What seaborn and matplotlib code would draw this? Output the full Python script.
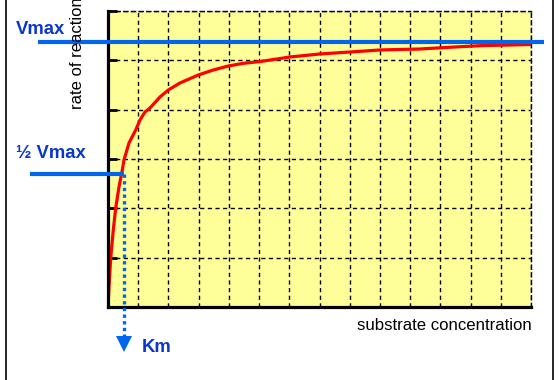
import numpy as np
import pandas as pd
import matplotlib
matplotlib.use("Agg")
import matplotlib.pyplot as plt
import seaborn as sns

# Curve (substrate concentration vs rate)
substrate = [0.0, 0.033, 0.089, 0.175, 0.255, 0.364, 0.473, 0.530, 0.695, 0.917,
             1.059, 1.225, 1.390, 1.721, 1.996, 2.383, 2.989, 3.485, 3.982, 4.479,
             5.008, 6.025, 7.018, 8.011, 9.004, 10.33, 11.32, 12.31, 13.31, 14.0]
rate = [0.0, 0.405, 0.993, 1.561, 2.007, 2.433, 2.777, 2.980, 3.325, 3.588,
        3.791, 3.953, 4.034, 4.257, 4.399, 4.541, 4.703, 4.804, 4.885, 4.940,
        4.973, 5.068, 5.129, 5.169, 5.210, 5.230, 5.265, 5.297, 5.311, 5.321]
vmax = 5.37
half_vmax = 2.70
km = 0.53
x_ticks = list(range(0, 15))
y_ticks = list(range(0, 7))

df = pd.DataFrame({"substrate": substrate, "rate": rate})

sns.set_style("white")
plt.rcParams['font.family'] = ['Liberation Sans', 'DejaVu Sans']

W, H = 560, 380
fig = plt.figure(figsize=(W / 100, H / 100), dpi=100)
ax = fig.add_axes([108 / W, 1 - 307 / H, (531 - 108) / W, (307 - 11) / H])
ax.set_facecolor("#ffff99")

sns.lineplot(data=df, x="substrate", y="rate", ax=ax, color="#ff0000",
             linewidth=2.3, zorder=5, sort=False)

ax.set_xlim(0, 14)
ax.set_ylim(0, 6)
ax.set_xticks(x_ticks)
ax.set_yticks(y_ticks)
ax.set_xticklabels([])
ax.set_yticklabels([])
ax.set_xlabel("")
ax.set_ylabel("")
ax.grid(True, color="black", linestyle=(0, (3, 2.5)), linewidth=1.0)
ax.set_axisbelow(True)
ax.tick_params(axis="y", direction="in", length=6.5, width=2, color="black", left=True)
ax.tick_params(axis="x", length=0, bottom=False)

for s in ["left", "bottom"]:
    ax.spines[s].set_color("black")
    ax.spines[s].set_linewidth(2.3)
    ax.spines[s].set_zorder(6)
for s in ["top", "right"]:
    ax.spines[s].set_color("black")
    ax.spines[s].set_linewidth(1.0)
    ax.spines[s].set_linestyle((0, (3, 2.5)))

line_blue = "#0066ee"
text_blue = "#0a38c8"

# Vmax line (extends beyond plot)
ax.plot([-2.32, 14.44], [vmax, vmax], color=line_blue, linewidth=3.0,
        clip_on=False, zorder=7, solid_capstyle="butt")
# half Vmax line
ax.plot([-2.58, km], [half_vmax, half_vmax], color=line_blue, linewidth=3.0,
        clip_on=False, zorder=7, solid_capstyle="butt")
# Km dotted drop line
ax.plot([km, km], [half_vmax, -0.58], color=line_blue, linewidth=2.4,
        linestyle=(0, (1, 1)), dash_capstyle="butt", clip_on=False, zorder=7)
ax.plot([km], [-0.75], marker="v", markersize=12, color=line_blue,
        markeredgewidth=0, clip_on=False, zorder=7)

def fy(py):
    return 1 - py / H

fig.text(16 / W, fy(33.5), "Vmax", color=text_blue, fontsize=13.3, fontweight="bold",
         ha="left", va="baseline")
fig.text(16 / W, fy(158.5), "½ Vmax", color=text_blue, fontsize=13.3, fontweight="bold",
         ha="left", va="baseline")
fig.text(142 / W, fy(352), "Km", color=text_blue, fontsize=13.3, fontweight="bold",
         ha="left", va="baseline")
fig.text(532 / W, fy(330), "substrate concentration", color="black", fontsize=12.1,
         ha="right", va="baseline")
fig.text(77 / W, fy(109), "rate of reaction", color="black", fontsize=12,
         rotation=90, ha="center", va="bottom")

# outer vertical frame lines
fig.add_artist(matplotlib.lines.Line2D([5.5 / W, 5.5 / W], [0, 1], color="black",
                                       linewidth=1.2, transform=fig.transFigure))
fig.add_artist(matplotlib.lines.Line2D([552.5 / W, 552.5 / W], [0, 1], color="black",
                                       linewidth=1.2, transform=fig.transFigure))

fig.savefig("out.png", dpi=100, facecolor="white")
